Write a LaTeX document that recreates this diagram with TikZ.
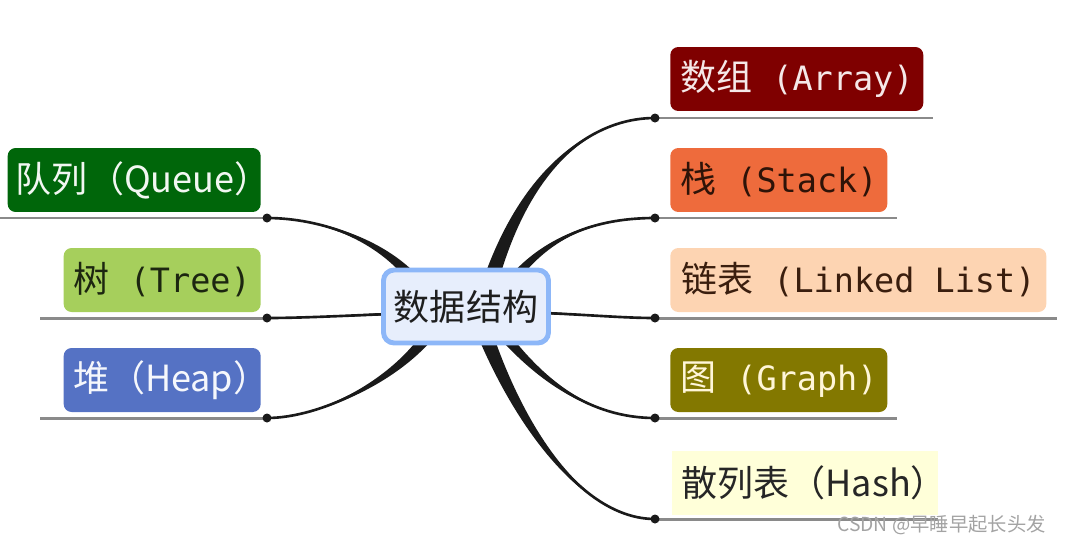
\documentclass[tikz,border=0pt]{standalone}
\usepackage{fontspec}
\setmainfont[RawFeature=+halt]{Noto Sans CJK SC}
\setmonofont[Scale=0.93]{DejaVu Sans Mono}
\usetikzlibrary{calc}
\definecolor{arrfill}{HTML}{7F0000}
\definecolor{arrtext}{HTML}{F5E8E8}
\definecolor{stkfill}{HTML}{EE6B3C}
\definecolor{stktext}{HTML}{2E1308}
\definecolor{lnkfill}{HTML}{FDD4B2}
\definecolor{lnktext}{HTML}{3A1E0E}
\definecolor{grffill}{HTML}{837800}
\definecolor{grftext}{HTML}{FFF6D8}
\definecolor{hshfill}{HTML}{FFFFD9}
\definecolor{hshtext}{HTML}{262626}
\definecolor{quefill}{HTML}{00660A}
\definecolor{quetext}{HTML}{F2F7F2}
\definecolor{trefill}{HTML}{A6CF5C}
\definecolor{tretext}{HTML}{1C2610}
\definecolor{hepfill}{HTML}{5572C4}
\definecolor{heptext}{HTML}{F5F7FC}
\definecolor{hubfill}{HTML}{E7EEFC}
\definecolor{hubline}{HTML}{8DB7F8}
\definecolor{hubtext}{HTML}{1E1E1E}
\definecolor{railgray}{HTML}{8A8A8A}
\definecolor{limbfg}{HTML}{1A1A1A}
\definecolor{wmgray}{HTML}{A3A3A3}
\pgfdeclarelayer{bg}
\pgfsetlayers{bg,main}

\begin{document}
\begin{tikzpicture}[
  x=0.02cm, y=-0.02cm,
  font=\fontsize{20.5}{24}\selectfont,
  leaf/.style={rounded corners=4.5pt, minimum height=1.28cm, inner xsep=4pt, anchor=west},
  leafl/.style={leaf, anchor=east},
  hub/.style={draw=hubline, line width=2.8pt, fill=hubfill, rounded corners=6pt, text=hubtext,
    minimum width=3.3cm, minimum height=1.46cm},
  rail/.style={draw=railgray, line width=1.7pt},
  limb/.style={fill=limbfg},
  limbline/.style={draw=limbfg, line width=1.5pt},
  knot/.style={fill=limbfg},
  wmark/.style={text=wmgray, font=\fontsize{11}{13}\selectfont},
]
\useasboundingbox (0,0) rectangle (1065,545);
% hub
\node[hub] (ds) at (466,306.5) {数据结构};
% right leaves
\node[leaf, fill=arrfill, text=arrtext, minimum width=5.06cm] (arr) at (670,79) {数组\texttt{ (Array)}};
\node[leaf, fill=stkfill, text=stktext, minimum width=4.34cm] (stk) at (670,180) {栈\texttt{ (Stack)}};
\node[leaf, fill=lnkfill, text=lnktext, minimum width=7.52cm] (lnk) at (670,280) {链表\texttt{ (Linked List)}};
\node[leaf, fill=grffill, text=grftext, minimum width=4.34cm] (grf) at (670,380) {图\texttt{ (Graph)}};
\node[leaf, sharp corners, fill=hshfill, text=hshtext, minimum width=5.32cm] (hsh) at (672,483) {散列表\hspace{.5em}（Hash）};
% left leaves
\node[leafl, fill=quefill, text=quetext, minimum width=5.06cm] (que) at (261,180) {队列\hspace{.5em}（Queue）};
\node[leafl, fill=trefill, text=tretext, minimum width=3.94cm] (tre) at (261,280) {树\texttt{ (Tree)}};
\node[leafl, fill=hepfill, text=heptext, minimum width=3.94cm] (hep) at (261,380) {堆\hspace{.5em}（Heap）};
% joints
\coordinate (arrdot) at (655,118);
\coordinate (stkdot) at (655,218);
\coordinate (lnkdot) at (655,318);
\coordinate (grfdot) at (655,418);
\coordinate (hshdot) at (655,519);
\coordinate (quedot) at (267,218);
\coordinate (tredot) at (267,318);
\coordinate (hepdot) at (267,418);
% rails under the leaves
\draw[rail] (arrdot) -- ++(278,0);
\draw[rail] (stkdot) -- ++(242,0);
\draw[rail] (lnkdot) -- ++(402,0);
\draw[rail] (grfdot) -- ++(242,0);
\draw[rail] (hshdot) -- ++(283,0);
\draw[rail] (quedot) -- ++(-267,0);
\draw[rail] (tredot) -- ++(-227,0);
\draw[rail] (hepdot) -- ++(-227,0);
% tapered branches, behind the hub
\begin{pgfonlayer}{bg}
\foreach \d/\sx/\sy/\ax/\ay/\bx/\by/\px/\py in {
    arrdot/19/-6/520/170/590/118/8/1.8,
    stkdot/39/-16/540/240/590/218/4.5/3,
    lnkdot/64/6/580/314/620/318/0/1.5,
    grfdot/34/24/540/380/590/418/4.2/-3.4,
    hshdot/14/14/515/420/580/519/7.6/-2.7,
    quedot/-41/-12/390/240/320/218/5.5/-3.5,
    tredot/-66/7/340/316/300/318/0/1.5,
    hepdot/-31/19/400/380/320/418/5.5/3.5} {
  \fill[limb] ($(ds.center)+({\sx+(\px)},{\sy+(\py)})$) .. controls ({\ax+(\px)/2},{\ay+(\py)/2}) and (\bx,\by) .. (\d)
    .. controls (\bx,\by) and ({\ax-(\px)/2},{\ay-(\py)/2}) .. ($(ds.center)+({\sx-(\px)},{\sy-(\py)})$) -- cycle;
  \draw[limbline] ($(ds.center)+(\sx,\sy)$) .. controls (\ax,\ay) and (\bx,\by) .. (\d);
}
\end{pgfonlayer}
\foreach \d in {arrdot,stkdot,lnkdot,grfdot,hshdot,quedot,tredot,hepdot}
  \fill[knot] (\d) circle[radius=0.09cm];
% watermark
\node[wmark, anchor=east] (csdn) at (1052,525) {CSDN @早睡早起长头发};
\end{tikzpicture}
\end{document}
